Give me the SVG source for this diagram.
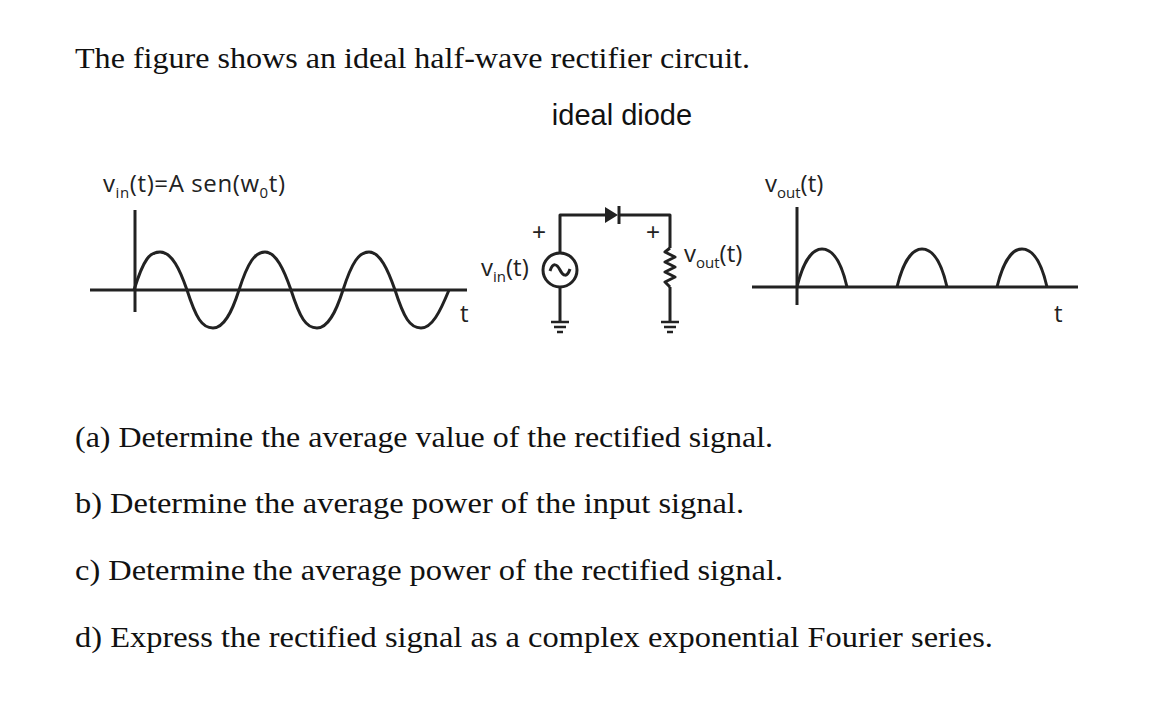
<svg xmlns="http://www.w3.org/2000/svg" width="1170" height="710" viewBox="0 0 1170 710">
<style>
.q{font-family:"Liberation Serif",serif;font-size:30px;fill:#111}
.s{font-family:"Open Sans","DejaVu Sans",sans-serif;font-size:24px;fill:#222}
.p{font-family:"Liberation Sans",Arial,sans-serif;font-size:24px;fill:#222}
.h{font-family:"Liberation Sans",Arial,sans-serif;font-size:29px;fill:#111}
.w{fill:none;stroke:#222;stroke-width:3;stroke-linejoin:round}
</style>
<rect width="1170" height="710" fill="#fff"/>
<text class="q" x="75" y="68" textLength="675" lengthAdjust="spacingAndGlyphs">The figure shows an ideal half-wave rectifier circuit.</text>
<text class="h" x="622" y="125" text-anchor="middle">ideal diode</text>
<g id="input-plot">
<text class="s" x="103" y="192" textLength="182">v<tspan font-size="15" dy="6">in</tspan><tspan dy="-6">(t)=A sen(w</tspan><tspan font-size="15" dy="6">0</tspan><tspan dy="-6">t)</tspan></text>
<line class="w" x1="90" y1="290" x2="467" y2="290"/>
<line class="w" x1="135" y1="210" x2="135" y2="312"/>
<path class="w" d="M134,290 C144,258 150,252 160,252 C172,252 180,270 187,290 C196,318 202,328 213,328 C224,328 232,312 239,290 C248,262 255,252 265,252 C276,252 284,270 291,290 C300,318 306,328 317,328 C328,328 336,312 343,290 C352,262 359,252 369,252 C380,252 388,270 395,290 C404,318 410,328 421,328 C432,328 440,312 449,290"/>
<text class="s" x="460" y="322">t</text>
</g>
<g id="source">
<circle class="w" cx="560" cy="270" r="17"/>
<path class="w" d="M550,271 C553,262 557,264 560,270 C563,276 567,278 570,269"/>
<text class="p" x="532" y="240">+</text>
<text class="s" x="481" y="276">v<tspan font-size="15" dy="6">in</tspan><tspan dy="-6">(t)</tspan></text>
</g>
<g id="diode">
<polygon points="605,207 605,223 618,215" fill="#222"/>
<line class="w" x1="619" y1="206" x2="619" y2="224"/>
</g>
<g id="resistor">
<path class="w" d="M670,248 L665,252 L675,257 L665,262 L675,267 L665,272 L675,277 L665,282 L670,287"/>
<text class="p" x="646" y="240">+</text>
<text class="s" x="684" y="262">v<tspan font-size="15" dy="6">out</tspan><tspan dy="-6">(t)</tspan></text>
</g>
<g id="grounds" stroke="#222" stroke-width="2.5">
<line x1="551" y1="322" x2="569" y2="322"/><line x1="554" y1="327" x2="566" y2="327"/><line x1="557" y1="332" x2="563" y2="332"/>
<line x1="661" y1="322" x2="679" y2="322"/><line x1="664" y1="327" x2="676" y2="327"/><line x1="667" y1="332" x2="673" y2="332"/>
</g>
<g id="connectors">
<path class="w" d="M560,253 L560,215 L606,215"/>
<path class="w" d="M619,215 L670,215 L670,248"/>
<line class="w" x1="670" y1="287" x2="670" y2="322"/>
<line class="w" x1="560" y1="287" x2="560" y2="322"/>
</g>
<g id="output-plot">
<text class="s" x="765" y="192">v<tspan font-size="15" dy="6">out</tspan><tspan dy="-6">(t)</tspan></text>
<line class="w" x1="752" y1="287" x2="1078" y2="287"/>
<line class="w" x1="797" y1="207" x2="797" y2="305"/>
<path class="w" d="M797,287 C803,262 812,249 822,249 C834,249 842,265 847,287"/>
<path class="w" d="M897,287 C903,262 912,249 922,249 C934,249 942,265 947,287"/>
<path class="w" d="M997,287 C1003,262 1012,249 1022,249 C1034,249 1042,265 1047,287"/>
<text class="s" x="1054" y="322">t</text>
</g>
<text class="q" x="75" y="447" textLength="698" lengthAdjust="spacingAndGlyphs">(a) Determine the average value of the rectified signal.</text>
<text class="q" x="75" y="513" textLength="669" lengthAdjust="spacingAndGlyphs">b) Determine the average power of the input signal.</text>
<text class="q" x="75" y="580" textLength="708" lengthAdjust="spacingAndGlyphs">c) Determine the average power of the rectified signal.</text>
<text class="q" x="75" y="647" textLength="918" lengthAdjust="spacingAndGlyphs">d) Express the rectified signal as a complex exponential Fourier series.</text>
</svg>
